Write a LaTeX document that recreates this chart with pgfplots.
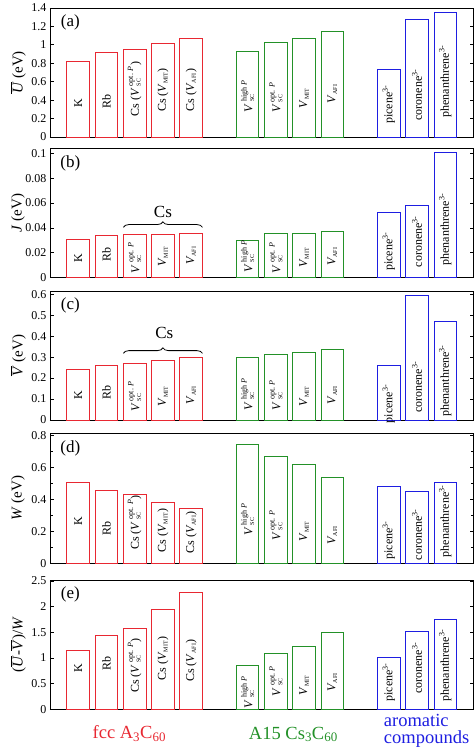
\documentclass[border=0pt]{standalone}
\usepackage{fontspec}
\setmainfont{Liberation Serif}
\usepackage{amsmath}
\usepackage{pgfplots}
\pgfplotsset{compat=1.18}
\usetikzlibrary{decorations.pathreplacing}
\definecolor{cred}{RGB}{232,40,50}
\definecolor{cgreen}{RGB}{35,145,40}
\definecolor{cblue}{RGB}{30,30,225}

\newcommand{\Vs}[1]{\textit{V}\,$^{\text{\upshape #1}}_{\scriptscriptstyle\text{\upshape SC}}$}
\newcommand{\Vb}[1]{\textit{V}$_{\scriptscriptstyle\text{\upshape #1}}$}
\newcommand{\bl}[3]{\node[rotate=90, font=\fontsize{12}{12}\selectfont, inner sep=0pt] at (axis cs:#1,#2) {#3};}
\newcommand{\plab}[1]{\node[font=\fontsize{17}{17}\selectfont] at (axis description cs:0.048,0.885) {#1};}

\pgfplotsset{
 panel/.style={
  scale only axis, width=423.5pt, height=129pt,
  xmin=-1, xmax=14, ymin=0, xtick=\empty,
  axis line style={line width=0.8pt},
  every tick/.style={black, line width=0.8pt},
  major tick length=4pt, minor tick length=2.5pt,
  scaled y ticks=false,
  /pgf/number format/assume math mode=true,
  yticklabel style={font=\fontsize{12}{12}\selectfont, /pgf/number format/fixed, /pgf/number format/precision=2},
  ylabel style={at={(axis description cs:-0.0756,0.5)}, anchor=center, font=\fontsize{15}{15}\selectfont},
  clip=false,
 },
 mybar/.style={ybar, bar width=0.8, bar shift=0pt, fill=white, line width=0.9pt, draw=#1},
}

\begin{document}
\begin{tikzpicture}
\useasboundingbox (0,0) rectangle (474pt,753pt);

% (a)
\begin{axis}[panel, at={(50pt,616pt)}, anchor=south west, ymax=1.4,
  ytick={0,0.2,0.4,0.6,0.8,1,1.2,1.4},
  ylabel={$\overline{\mbox{\textit{U}}}$ (eV)}]
\addplot[mybar=cred] coordinates {(0,0.825) (1,0.919) (2,0.948) (3,1.02) (4,1.071)};
\addplot[mybar=cgreen] coordinates {(6,0.933) (7,1.023) (8,1.071) (9,1.143)};
\addplot[mybar=cblue] coordinates {(11,0.738) (12,1.277) (13,1.357)};
\plab{(a)}
\bl{0}{0.37}{K}
\bl{1}{0.38}{Rb}
\bl{2}{0.52}{Cs (\Vs{opt. \textit{P}})}
\bl{3}{0.51}{Cs (\Vb{MIT})}
\bl{4}{0.51}{Cs (\Vb{AFI})}
\bl{6}{0.445}{\Vs{high \textit{P}}}
\bl{7}{0.43}{\Vs{opt. \textit{P}}}
\bl{8}{0.42}{\Vb{MIT}}
\bl{9}{0.47}{\Vb{AFI}}
\bl{11}{0.35}{picene\textsuperscript{3-}}
\bl{12}{0.455}{coronene\textsuperscript{3-}}
\bl{13}{0.60}{phenanthrene\textsuperscript{3-}}
\end{axis}

% (b)
\begin{axis}[panel, at={(50pt,475.3pt)}, anchor=south west, height=129.4pt, ymax=0.104,
  ytick={0,0.02,0.04,0.06,0.08,0.1},
  ylabel={\textit{J} (eV)}]
\addplot[mybar=cred] coordinates {(0,0.0309) (1,0.0338) (2,0.0346) (3,0.0346) (4,0.0359)};
\addplot[mybar=cgreen] coordinates {(6,0.0300) (7,0.0359) (8,0.0359) (9,0.0370)};
\addplot[mybar=cblue] coordinates {(11,0.0528) (12,0.0577) (13,0.1005)};
\plab{(b)}
\draw[decorate, decoration={brace, amplitude=5.5pt}, line width=0.8pt] (axis cs:1.6,0.0405) -- (axis cs:4.4,0.0405);
\node[font=\fontsize{17}{17}\selectfont] at (axis cs:3.0,0.053) {Cs};
\bl{0}{0.016}{K}
\bl{1}{0.0185}{Rb}
\bl{2}{0.016}{\Vs{opt. \textit{P}}}
\bl{3}{0.017}{\Vb{MIT}}
\bl{4}{0.0177}{\Vb{AFI}}
\bl{6}{0.017}{\Vs{high \textit{P}}}
\bl{7}{0.016}{\Vs{opt. \textit{P}}}
\bl{8}{0.016}{\Vb{MIT}}
\bl{9}{0.017}{\Vb{AFI}}
\bl{11}{0.021}{picene\textsuperscript{3-}}
\bl{12}{0.029}{coronene\textsuperscript{3-}}
\bl{13}{0.0387}{phenanthrene\textsuperscript{3-}}
\end{axis}

% (c)
\begin{axis}[panel, at={(50pt,333pt)}, anchor=south west, ymax=0.6157,
  ytick={0,0.1,0.2,0.3,0.4,0.5,0.6},
  ylabel={$\overline{\mbox{\textit{V}}}$ (eV)}]
\addplot[mybar=cred] coordinates {(0,0.243) (1,0.2625) (2,0.2705) (3,0.286) (4,0.299)};
\addplot[mybar=cgreen] coordinates {(6,0.297) (7,0.3135) (8,0.321) (9,0.337)};
\addplot[mybar=cblue] coordinates {(11,0.259) (12,0.595) (13,0.4725)};
\plab{(c)}
\draw[decorate, decoration={brace, amplitude=5.5pt}, line width=0.8pt] (axis cs:1.6,0.318) -- (axis cs:4.4,0.318);
\node[font=\fontsize{17}{17}\selectfont] at (axis cs:3.05,0.414) {Cs};
\bl{0}{0.119}{K}
\bl{1}{0.133}{Rb}
\bl{2}{0.114}{\Vs{opt. \textit{P}}}
\bl{3}{0.114}{\Vb{MIT}}
\bl{4}{0.119}{\Vb{AFI}}
\bl{6}{0.124}{\Vs{high \textit{P}}}
\bl{7}{0.119}{\Vs{opt. \textit{P}}}
\bl{8}{0.114}{\Vb{MIT}}
\bl{9}{0.119}{\Vb{AFI}}
\bl{11}{0.076}{picene\textsuperscript{3-}}
\bl{12}{0.157}{coronene\textsuperscript{3-}}
\bl{13}{0.186}{phenanthrene\textsuperscript{3-}}
\end{axis}

% (d)
\begin{axis}[panel, at={(50pt,189.7pt)}, anchor=south west, height=130pt, ymax=0.8125,
  ytick={0,0.2,0.4,0.6,0.8}, minor y tick num=1,
  ylabel={\textit{W} (eV)}]
\addplot[mybar=cred] coordinates {(0,0.505) (1,0.458) (2,0.430) (3,0.382) (4,0.345)};
\addplot[mybar=cgreen] coordinates {(6,0.745) (7,0.665) (8,0.618) (9,0.538)};
\addplot[mybar=cblue] coordinates {(11,0.480) (12,0.450) (13,0.505)};
\plab{(d)}
\bl{0}{0.262}{K}
\bl{1}{0.218}{Rb}
\bl{2}{0.255}{Cs (\Vs{opt. \textit{P}})}
\bl{3}{0.206}{Cs (\Vb{MIT})}
\bl{4}{0.193}{Cs (\Vb{AFI})}
\bl{6}{0.274}{\Vs{high \textit{P}}}
\bl{7}{0.237}{\Vs{opt. \textit{P}}}
\bl{8}{0.200}{\Vb{MIT}}
\bl{9}{0.174}{\Vb{AFI}}
\bl{11}{0.143}{picene\textsuperscript{3-}}
\bl{12}{0.180}{coronene\textsuperscript{3-}}
\bl{13}{0.262}{phenanthrene\textsuperscript{3-}}
\end{axis}

% (e)
\begin{axis}[panel, at={(50pt,43.7pt)}, anchor=south west, height=129.3pt, ymax=2.52,
  ytick={0,0.5,1,1.5,2,2.5},
  ylabel={($\overline{\mbox{\textit{U}}}$-$\overline{\mbox{\textit{V}}}$)/\textit{W}}]
\addplot[mybar=cred] coordinates {(0,1.155) (1,1.44) (2,1.584) (3,1.94) (4,2.28)};
\addplot[mybar=cgreen] coordinates {(6,0.863) (7,1.083) (8,1.22) (9,1.506)};
\addplot[mybar=cblue] coordinates {(11,1.005) (12,1.52) (13,1.753)};
\plab{(e)}
\bl{0}{0.81}{K}
\bl{1}{0.89}{Rb}
\bl{2}{0.85}{Cs (\Vs{opt. \textit{P}})}
\bl{3}{0.99}{Cs (\Vb{MIT})}
\bl{4}{0.95}{Cs (\Vb{AFI})}
\bl{6}{0.33}{\Vs{high \textit{P}}}
\bl{7}{0.55}{\Vs{opt. \textit{P}}}
\bl{8}{0.465}{\Vb{MIT}}
\bl{9}{0.525}{\Vb{AFI}}
\bl{11}{0.53}{picene\textsuperscript{3-}}
\bl{12}{0.80}{coronene\textsuperscript{3-}}
\bl{13}{0.85}{phenanthrene\textsuperscript{3-}}
\node[text=cred, font=\fontsize{18.5}{20}\selectfont] at ([yshift=-24pt]axis cs:1.81,0) {fcc A\textsubscript{3}C\textsubscript{60}};
\node[text=cgreen, font=\fontsize{18.5}{20}\selectfont] at ([yshift=-25pt]axis cs:7.62,0) {A15 Cs\textsubscript{3}C\textsubscript{60}};
\node[text=cblue, font=\fontsize{18.5}{17.5}\selectfont, align=left, anchor=west, inner sep=0pt] at ([yshift=-21.5pt]axis cs:10.82,0) {aromatic\\compounds};
\end{axis}
\end{tikzpicture}
\end{document}
